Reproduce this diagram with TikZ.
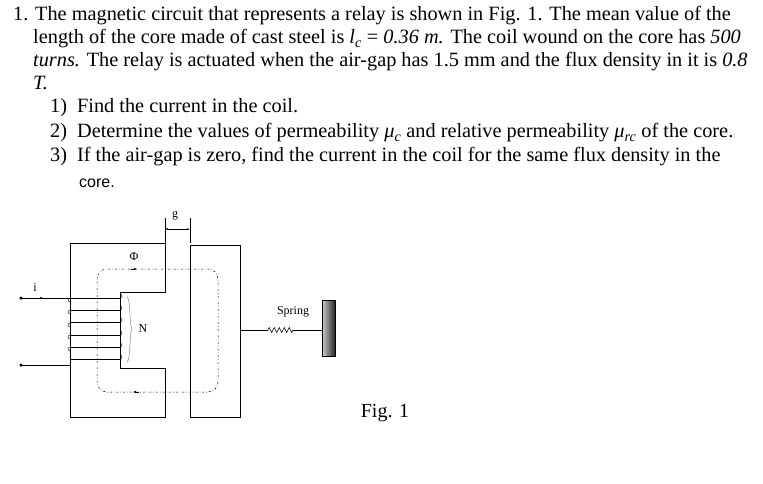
\documentclass[tikz,border=0pt]{standalone}
\usepackage{fontspec}
\setmainfont{Liberation Serif}
\newfontfamily\arialf{Liberation Sans}
\usetikzlibrary{arrows.meta,decorations.pathmorphing}
\begin{document}
\begin{tikzpicture}[x=1pt,y=-1pt,
  txt/.style={anchor=base west,inner sep=0pt,font=\fontsize{20.3}{22}\selectfont},
  small/.style={inner sep=0pt,font=\fontsize{12}{13}\selectfont},
  wire/.style={line width=0.6pt},
  fluxline/.style={dash pattern=on 0.6pt off 2pt on 2pt off 2pt,line width=0.5pt},
  dotc/.style={circle,fill,inner sep=0pt,minimum size=3.5pt}]
\useasboundingbox (0,0) rectangle (763,484);
\fill[white] (0,0) rectangle (763,484);
\node[txt] (l1) at (13,21) {1. The magnetic circuit that represents a relay is shown in Fig. 1. The mean value of the};
\node[txt] (l2) at (33,44) {length of the core made of cast steel is \textit{l\textsubscript{c}} = \textit{0.36 m.} The coil wound on the core has \textit{500}};
\node[txt] (l3) at (33,67) {\textit{turns.} The relay is actuated when the air-gap has 1.5 mm and the flux density in it is \textit{0.8}};
\node[txt] (l4) at (33,90) {\textit{T.}};
\node[txt] (a1) at (50,113) {1)\hspace{10pt}Find the current in the coil.};
\node[txt] (a2) at (50,138) {2)\hspace{10pt}Determine the values of permeability \textit{μ\textsubscript{c}} and relative permeability \textit{μ\textsubscript{rc}} of the core.};
\node[txt] (a3) at (50,161) {3)\hspace{10pt}If the air-gap is zero, find the current in the coil for the same flux density in the};
\node[txt,font=\arialf\fontsize{16}{18}\selectfont] (a4) at (79,187) {core.};
% core
\draw[wire] (70,243) -- (165,243) -- (165,292) -- (120,292) -- (120,368) -- (165,368) -- (165,417) -- (70,417) -- cycle;
\draw[wire] (190,245) rectangle (240,417);
% gap
\draw[line width=0.5pt] (165,218) -- (165,243) (190,218) -- (190,243);
\draw[line width=0.5pt,{Latex[length=2.5pt]}-{Latex[length=2.5pt]}] (165,229) -- (190,229);
\node[small] (g) at (175,216) {g};
% flux
\draw[fluxline,rounded corners=10pt] (97,269) rectangle (218,392);
\draw[-{Latex[length=3pt]}] (131,269) -- (137,269);
\draw[-{Latex[length=3pt]}] (139,392) -- (133,392);
\node[small] (phi) at (134,257) {Φ};
% coil
\foreach \y in {298,310,322,335,347,359} \draw[wire] (70,\y) -- (120,\y);
\foreach \y in {304,316,329,341,353} \draw[line width=0.4pt] (70,\y-2) arc (90:270:2);
\foreach \y in {300,312,324,337,349,361} \draw[line width=0.4pt] (120,\y-2) arc (90:-90:2);
\draw[wire] (21,298) -- (70,298);
\draw[wire] (21,365) -- (70,365);
\node[dotc] (t1) at (21,298) {};
\node[dotc] (t2) at (21,365) {};
\draw[-{Latex[length=3pt]}] (36,298) -- (43,298);
\node[small] (i) at (35,288) {i};
\draw[line width=0.5pt,color=gray] (127,297) .. controls (131,299) and (129,325) .. (132,329) .. controls (129,333) and (131,360) .. (127,362);
\node[small] (N) at (143,329) {N};
% spring
\draw[wire] (240,330) -- (268,330);
\draw[wire,decorate,decoration={zigzag,segment length=5pt,amplitude=2.5pt}] (268,330) -- (293,330);
\draw[wire] (293,330) -- (322,330);
\node[small] (sp) at (293,312) {Spring};
\shade[left color=gray!40,right color=black!85] (322,300) rectangle (335,356);
\draw[line width=0.4pt] (322,300) rectangle (335,356);
\node[inner sep=0pt,font=\fontsize{20}{22}\selectfont] (fig) at (385,413) {Fig. 1};
\end{tikzpicture}
\end{document}
